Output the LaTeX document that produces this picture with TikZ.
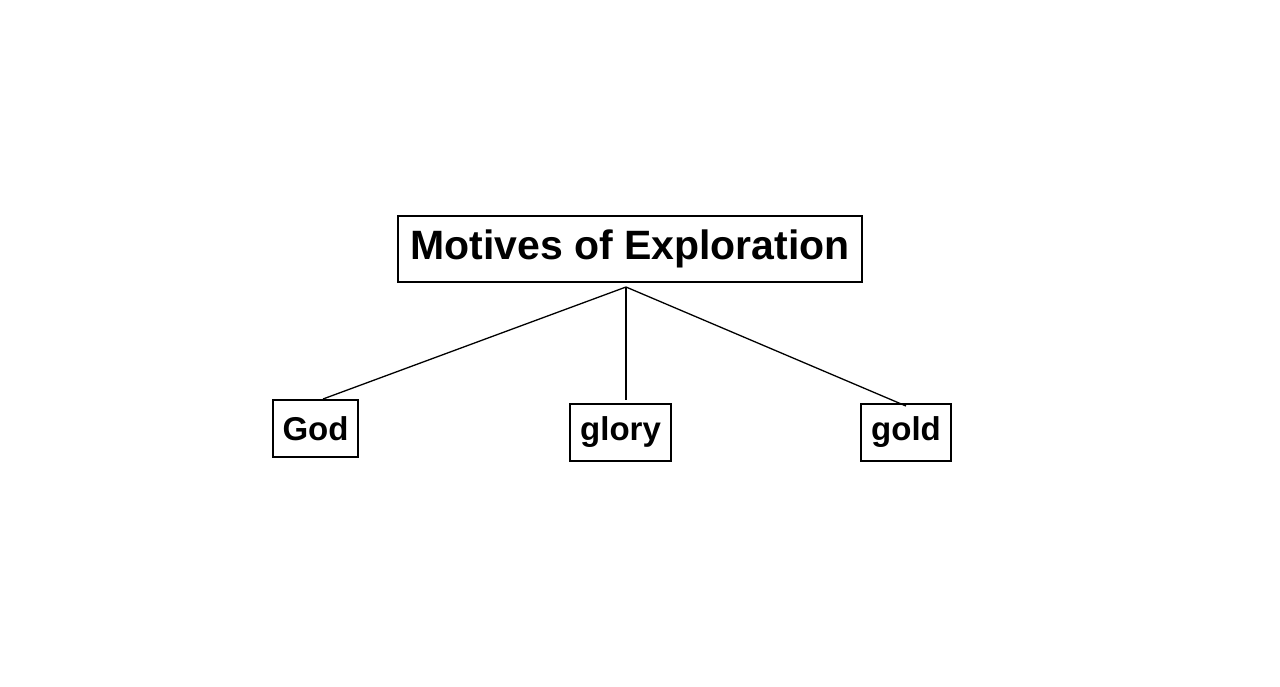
\documentclass[tikz,border=0pt]{standalone}
\usepackage{fontspec}
\setmainfont{Liberation Sans}
\begin{document}
\begin{tikzpicture}[x=1pt,y=-1pt,
  box/.style={draw,line width=1.3pt,inner sep=0pt,font=\bfseries,anchor=center}]
\useasboundingbox (0,0) rectangle (1280,686);
\node[box,minimum width=464pt,minimum height=66pt,font=\fontsize{41}{45}\bfseries\selectfont] (title) at (630,249) {Motives of Exploration};
\node[box,minimum width=85pt,minimum height=57pt,font=\fontsize{33}{36}\bfseries\selectfont] (god) at (315.5,428.5) {God};
\node[box,minimum width=101pt,minimum height=57pt,font=\fontsize{33}{36}\bfseries\selectfont] (glory) at (620.5,432.5) {glory};
\node[box,minimum width=90pt,minimum height=57pt,font=\fontsize{33}{36}\bfseries\selectfont] (gold) at (906,432.5) {gold};
\coordinate (apex) at (626,287);
\coordinate (e1) at (323,399);
\coordinate (e2) at (626,400);
\coordinate (e3) at (906,406);
\draw[line width=1.3pt] (apex) -- (e1);
\draw[line width=1.3pt] (apex) -- (e2);
\draw[line width=1.3pt] (apex) -- (e3);
\end{tikzpicture}
\end{document}
